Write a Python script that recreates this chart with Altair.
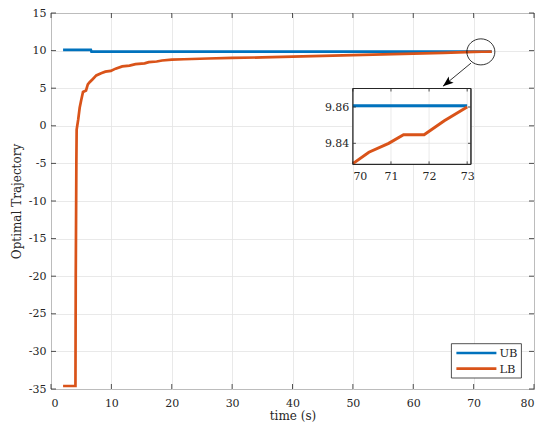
import altair as alt
import pandas as pd

# ---------------- data ----------------
series = ["UB", "LB"]
colors = ["#0072BD", "#D95319"]

ub_t = [2.0, 6.6, 6.7, 73.0]
ub_v = [10.09, 10.09, 9.862, 9.862]

lb_t = [2.0, 4.05, 4.1, 4.2, 4.25, 4.5, 4.75, 5.0, 5.3, 5.8, 6.1, 6.4, 6.9, 7.5,
        8.3, 9.0, 9.9, 10.7, 11.8, 13.0, 14.0, 15.5, 16.2, 17.5, 18.4, 20.0,
        22.0, 26.0, 30.0, 35.0, 40.0, 45.0, 50.0, 55.0, 60.0, 65.0, 70.0,
        71.4, 71.9, 73.0]
lb_v = [-34.6, -34.6, -20.0, -5.0, -0.5, 0.8, 2.4, 3.4, 4.5, 4.7, 5.5, 5.8, 6.2, 6.7,
        7.0, 7.2, 7.3, 7.6, 7.9, 8.0, 8.2, 8.3, 8.46, 8.55, 8.68, 8.8,
        8.85, 8.95, 9.02, 9.1, 9.2, 9.3, 9.4, 9.5, 9.6, 9.7, 9.83,
        9.845, 9.845, 9.86]

inset_ub_t = [70.0, 73.0]
inset_ub_v = [9.8607, 9.8607]
inset_lb_t = [70.0, 70.42, 70.94, 71.33, 71.87, 72.4, 73.0]
inset_lb_v = [9.8288, 9.8351, 9.8400, 9.8447, 9.8447, 9.8524, 9.8600]

x_ticks = [0, 10, 20, 30, 40, 50, 60, 70, 80]
y_ticks = [-35, -30, -25, -20, -15, -10, -5, 0, 5, 10, 15]
x_domain = [0, 80]
y_domain = [-35, 15]

inset_x_ticks = [70, 71, 72, 73]
inset_y_ticks = [9.84, 9.86]
inset_x_domain = [70, 73.1]
inset_y_domain = [9.8284, 9.8702]

# where the inset box sits, in main-axis data coordinates
inset_box_x = [50.0, 69.56]
inset_box_y = [-5.13, 4.96]

# annotation (in main data coordinates)
circle_x = [71.2]
circle_y = [9.83]
arrow_x = [69.56, 64.92]
arrow_y = [8.33, 5.26]
head_x = [65.6]
head_y = [5.7]

# ---------------- layout ----------------
W, H = 483, 376
PAD = {"left": 43, "top": 5, "right": 8, "bottom": 37}
AX = "#262626"
GRID = "#e3e3e3"
FONT = "DejaVu Serif"
LABEL_SIZE = 11
TITLE_SIZE = 12


def px_x(v):
    return (v - x_domain[0]) / (x_domain[1] - x_domain[0]) * W


def px_y(v):
    return (y_domain[1] - v) / (y_domain[1] - y_domain[0]) * H


INSET_X_RANGE = [px_x(inset_box_x[0]), px_x(inset_box_x[1])]
INSET_Y_RANGE = [px_y(inset_box_y[0]), px_y(inset_box_y[1])]


def mx():
    return alt.Scale(domain=x_domain, nice=False, zero=False)


def my():
    return alt.Scale(domain=y_domain, nice=False, zero=False)


def ix():
    return alt.Scale(domain=inset_x_domain, range=INSET_X_RANGE, nice=False, zero=False)


def iy():
    return alt.Scale(domain=inset_y_domain, range=INSET_Y_RANGE, nice=False, zero=False)


layers = []

# main axes + grid
layers.append(
    alt.Chart(pd.DataFrame({"x": [x_domain[0]], "y": [y_domain[0]]})).mark_point(opacity=0).encode(
        x=alt.X("x:Q", scale=mx(),
                axis=alt.Axis(orient="bottom", values=x_ticks, title="time (s)", grid=True,
                              ticks=False, domain=False, labelPadding=8, titlePadding=2,
                              labelExpr="'' + datum.value")),
        y=alt.Y("y:Q", scale=my(),
                axis=alt.Axis(orient="left", values=y_ticks, title="Optimal Trajectory",
                              grid=True, ticks=False, domain=False, labelPadding=5,
                              titlePadding=5, labelExpr="'' + datum.value")),
    )
)

# main lines
for c, tt, vv in [(colors[0], ub_t, ub_v), (colors[1], lb_t, lb_v)]:
    df = pd.DataFrame({"t": tt, "v": vv, "i": list(range(len(tt)))})
    layers.append(
        alt.Chart(df).mark_line(color=c, strokeWidth=2.7, strokeJoin="miter").encode(
            x=alt.X("t:Q", scale=mx(), axis=None),
            y=alt.Y("v:Q", scale=my(), axis=None),
            order="i:Q",
        )
    )

# inward ticks on all four sides
xt_df = pd.DataFrame({"v": x_ticks})
yt_df = pd.DataFrame({"v": y_ticks})
for y0, y1 in [(H, H - 5), (0, 5)]:
    layers.append(alt.Chart(xt_df).mark_rule(color=AX, strokeWidth=0.8).encode(
        x=alt.X("v:Q", scale=mx(), axis=None), y=alt.value(y0), y2=alt.value(y1)))
for x0, x1 in [(0, 5), (W, W - 5)]:
    layers.append(alt.Chart(yt_df).mark_rule(color=AX, strokeWidth=0.8).encode(
        y=alt.Y("v:Q", scale=my(), axis=None), x=alt.value(x0), x2=alt.value(x1)))

# circle and arrow
ellipse_path = "M -1 0 A 1 0.93 0 1 1 1 0 A 1 0.93 0 1 1 -1 0 Z"
layers.append(alt.Chart(pd.DataFrame({"x": circle_x, "y": circle_y})).mark_point(
    shape=ellipse_path, size=784, filled=False, color="black", strokeWidth=0.8, opacity=1
).encode(x=alt.X("x:Q", scale=mx(), axis=None), y=alt.Y("y:Q", scale=my(), axis=None)))

layers.append(alt.Chart(pd.DataFrame({"x": [arrow_x[0]], "x2": [arrow_x[1]],
                                      "y": [arrow_y[0]], "y2": [arrow_y[1]]})).mark_rule(
    color="black", strokeWidth=0.8
).encode(x=alt.X("x:Q", scale=mx(), axis=None), x2="x2:Q",
         y=alt.Y("y:Q", scale=my(), axis=None), y2="y2:Q"))

head_path = "M 0 -1 L 0.75 1 L 0 0.55 L -0.75 1 Z"
layers.append(alt.Chart(pd.DataFrame({"x": head_x, "y": head_y})).mark_point(
    shape=head_path, size=110, filled=True, color="black", angle=231, opacity=1, strokeWidth=0
).encode(x=alt.X("x:Q", scale=mx(), axis=None), y=alt.Y("y:Q", scale=my(), axis=None)))

# manual legend (box anchored to the lower-right corner of the plot)
base_df = pd.DataFrame({"a": [0]})
LX1 = W - 12.6
LX0 = LX1 - 70
LY1 = H - 11
LY0 = LY1 - 34.3
layers.append(alt.Chart(base_df).mark_rect(fill="white", stroke=AX, strokeWidth=0.8).encode(
    x=alt.value(LX0), x2=alt.value(LX1), y=alt.value(LY0), y2=alt.value(LY1)))
for i, (s, c) in enumerate(zip(series, colors)):
    yy = LY0 + 9.3 + 15.7 * i
    layers.append(alt.Chart(base_df).mark_rule(color=c, strokeWidth=2.7).encode(
        x=alt.value(LX0 + 5), x2=alt.value(LX0 + 45), y=alt.value(yy), y2=alt.value(yy)))
    layers.append(alt.Chart(pd.DataFrame({"s": [s]})).mark_text(
        align="left", baseline="middle", font=FONT, fontSize=11.5, color=AX).encode(
        text="s:N", x=alt.value(LX0 + 48), y=alt.value(yy + 1)))

# ---------------- inset ----------------
box_df = pd.DataFrame({"x": [inset_x_domain[0]], "x2": [inset_x_domain[1]],
                       "y": [inset_y_domain[0]], "y2": [inset_y_domain[1]]})
layers.append(alt.Chart(box_df).mark_rect(fill="white", stroke=AX, strokeWidth=1).encode(
    x=alt.X("x:Q", scale=ix(),
            axis=alt.Axis(orient="bottom", values=inset_x_ticks, grid=False, ticks=False,
                          domain=False, title=None, offset=INSET_Y_RANGE[0] - H,
                          labelPadding=6, labelExpr="'' + datum.value")),
    x2="x2:Q",
    y=alt.Y("y:Q", scale=iy(),
            axis=alt.Axis(orient="left", values=inset_y_ticks, grid=False, ticks=False,
                          domain=False, title=None, offset=-INSET_X_RANGE[0],
                          labelPadding=4, format=".2f")),
    y2="y2:Q",
))

ixt_df = pd.DataFrame({"v": inset_x_ticks})
iyt_df = pd.DataFrame({"v": inset_y_ticks})
layers.append(alt.Chart(ixt_df).mark_rule(color=GRID, strokeWidth=0.8).encode(
    x=alt.X("v:Q", scale=ix(), axis=None),
    y=alt.value(INSET_Y_RANGE[0]), y2=alt.value(INSET_Y_RANGE[1])))
layers.append(alt.Chart(iyt_df).mark_rule(color=GRID, strokeWidth=0.8).encode(
    y=alt.Y("v:Q", scale=iy(), axis=None),
    x=alt.value(INSET_X_RANGE[0]), x2=alt.value(INSET_X_RANGE[1])))

for c, tt, vv in [(colors[0], inset_ub_t, inset_ub_v), (colors[1], inset_lb_t, inset_lb_v)]:
    df = pd.DataFrame({"t": tt, "v": vv, "i": list(range(len(tt)))})
    layers.append(alt.Chart(df).mark_line(color=c, strokeWidth=3).encode(
        x=alt.X("t:Q", scale=ix(), axis=None),
        y=alt.Y("v:Q", scale=iy(), axis=None),
        order="i:Q",
    ))

for y0, y1 in [(INSET_Y_RANGE[0], INSET_Y_RANGE[0] - 3), (INSET_Y_RANGE[1], INSET_Y_RANGE[1] + 3)]:
    layers.append(alt.Chart(ixt_df).mark_rule(color=AX, strokeWidth=0.8).encode(
        x=alt.X("v:Q", scale=ix(), axis=None), y=alt.value(y0), y2=alt.value(y1)))
for x0, x1 in [(INSET_X_RANGE[0], INSET_X_RANGE[0] + 3), (INSET_X_RANGE[1], INSET_X_RANGE[1] - 3)]:
    layers.append(alt.Chart(iyt_df).mark_rule(color=AX, strokeWidth=0.8).encode(
        y=alt.Y("v:Q", scale=iy(), axis=None), x=alt.value(x0), x2=alt.value(x1)))

# inset border redrawn on top
layers.append(alt.Chart(box_df).mark_rect(filled=False, stroke=AX, strokeWidth=1).encode(
    x=alt.X("x:Q", scale=ix(), axis=None), x2="x2:Q",
    y=alt.Y("y:Q", scale=iy(), axis=None), y2="y2:Q"))

chart = alt.layer(*layers).resolve_scale(x="independent", y="independent").properties(
    width=W, height=H,
    autosize=alt.AutoSizeParams(type="none"),
    padding=PAD,
).configure_view(stroke=AX, strokeWidth=1).configure_axis(
    labelFont=FONT, titleFont=FONT, labelFontSize=LABEL_SIZE, titleFontSize=TITLE_SIZE,
    labelColor=AX, titleColor=AX, titleFontWeight="normal",
    gridColor=GRID, gridWidth=0.8, gridOpacity=1,
)

chart.save("out.html", embed_options={"renderer": "svg", "actions": False})
